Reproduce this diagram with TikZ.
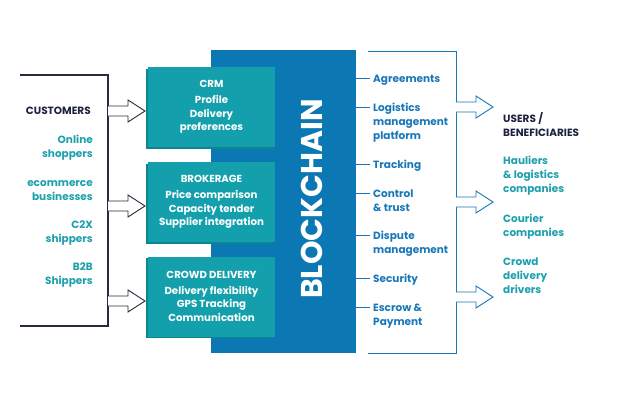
\documentclass[tikz,border=0pt]{standalone}
\usepackage{fontspec}
\setmainfont{Poppins}
\usetikzlibrary{shadows}
\definecolor{chainblue}{HTML}{0B78B3}
\definecolor{boxteal}{HTML}{13A0AC}
\definecolor{boxdark}{HTML}{0B8590}
\definecolor{tealtext}{HTML}{1CA0AD}
\definecolor{bluetext}{HTML}{1877B8}
\definecolor{headtext}{HTML}{1E2140}
\definecolor{darkline}{HTML}{2A2A3A}
\tikzset{
  itemfont/.style={font=\fontsize{10.5}{14}\selectfont\bfseries},
  tealbox/.style={fill=boxteal, minimum width=127, minimum height=80, inner sep=0, align=center,
    text=white, font=\fontsize{10.2}{13.8}\selectfont\bfseries,
    drop shadow={shadow xshift=-1.6pt, shadow yshift=-1.6pt, fill=boxdark, opacity=1}},
  custitem/.style={itemfont, text=tealtext, align=right, anchor=base east, inner sep=0},
  useritem/.style={itemfont, text=tealtext, align=left, anchor=base west, inner sep=0},
  chainitem/.style={itemfont, text=bluetext, align=left, anchor=base west, inner sep=0},
  headitem/.style={itemfont, text=headtext, inner sep=0},
  tickline/.style={draw=bluetext, line width=0.9pt},
  hollowleft/.pic={\draw[darkline, fill=white, line width=0.9pt, line join=miter]
    (0,-5) -- (20,-5) -- (20,-11) -- (37,0) -- (20,11) -- (20,5) -- (0,5);},
  hollowright/.pic={\draw[bluetext, fill=white, line width=0.9pt, line join=miter]
    (0,-5) -- (20,-5) -- (20,-11) -- (37,0) -- (20,11) -- (20,5) -- (0,5);}
}
\begin{document}
\begin{tikzpicture}[x=1pt,y=-1pt]
\useasboundingbox (0,0) rectangle (640,410);
% blockchain column
\node[fill=chainblue, minimum width=145, minimum height=303, anchor=north west, inner sep=0] (chain) at (211,50) {};
\node[rotate=90, text=white, font=\fontsize{30}{30}\selectfont\bfseries, inner sep=0] (chaintxt) at (312,199) {BLOCKCHAIN};
% teal boxes
\node[tealbox] (crm) at (211.5,107) {CRM\\[2pt]Profile\\Delivery\\preferences};
\node[tealbox] (brok) at (211.5,202) {BROKERAGE\\[2pt]Price comparison\\Capacity tender\\Supplier integration};
\node[tealbox] (crowd) at (211.5,296.5) {CROWD DELIVERY\\[2pt]Delivery flexibility\\GPS Tracking\\Communication};
% customers bracket
\coordinate (cl1) at (20,75);
\coordinate (cl2) at (108,75);
\coordinate (cl3) at (108,326);
\coordinate (cl4) at (20,326);
\draw[darkline, line width=1.1pt] (cl1) -- (cl2) -- (cl3) -- (cl4);
\node[headitem, anchor=base east] (cust) at (91,114) {CUSTOMERS};
\node[custitem] (online) at (93,157) {Online\\shoppers};
\node[custitem] (ecom) at (93,200) {ecommerce\\businesses};
\node[custitem] (c2x) at (93,242) {C2X\\shippers};
\node[custitem] (b2b) at (93,284) {B2B\\Shippers};
% left arrows
\coordinate (la1) at (108,111);
\coordinate (la2) at (108,206);
\coordinate (la3) at (108,301);
\pic at (la1) {hollowleft};
\pic at (la2) {hollowleft};
\pic at (la3) {hollowleft};
% right bracket
\coordinate (cr1) at (368,51);
\coordinate (cr2) at (456,51);
\coordinate (cr3) at (456,353);
\coordinate (cr4) at (368,353);
\draw[bluetext, line width=0.9pt] (cr1) -- (cr2) -- (cr3) -- (cr4);
% chain items (base = last line)
\node[chainitem] (agr) at (373,82) {Agreements};
\node[chainitem] (logi) at (373,139) {Logistics\\management\\platform};
\node[chainitem] (track) at (373,168) {Tracking};
\node[chainitem] (ctrl) at (373,211) {Control\\\& trust};
\node[chainitem] (disp) at (373,253) {Dispute\\management};
\node[chainitem] (sec) at (373,282) {Security};
\node[chainitem] (esc) at (373,325) {Escrow \&\\Payment};
\foreach \n/\s in {agr/3.8,logi/31.8,track/3.8,ctrl/17.8,disp/17.8,sec/3.8,esc/17.8}{
  \draw[tickline] ([yshift=\s pt]\n.base west -| chain.east) -- ([xshift=-3pt,yshift=\s pt]\n.base west);
}
% right arrows
\coordinate (ra1) at (456,107);
\coordinate (ra2) at (456,202);
\coordinate (ra3) at (456,297);
\pic at (ra1) {hollowright};
\pic at (ra2) {hollowright};
\pic at (ra3) {hollowright};
% users
\node[headitem, align=left, anchor=base west] (users) at (503,136) {USERS /\\BENEFICIARIES};
\node[useritem] (haul) at (503,192) {Hauliers\\\& logistics\\companies};
\node[useritem] (cour) at (503,236) {Courier\\companies};
\node[useritem] (crowdd) at (503,293) {Crowd\\delivery\\drivers};
\end{tikzpicture}
\end{document}
